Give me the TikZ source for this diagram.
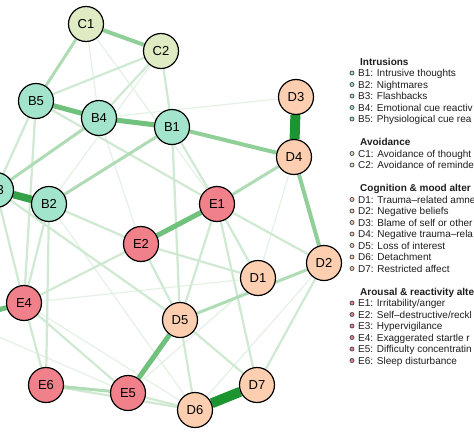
\documentclass[tikz,border=0pt]{standalone}
\usepackage{fontspec}
\setmainfont{Liberation Sans}
\pgfdeclarelayer{bglayer}
\pgfdeclarelayer{edgelayer}
\pgfsetlayers{bglayer,edgelayer,main}
\definecolor{Bcol}{RGB}{163,228,205}
\definecolor{Ccol}{RGB}{222,235,195}
\definecolor{Dcol}{RGB}{253,206,175}
\definecolor{Ecol}{RGB}{240,128,138}
\definecolor{ew1}{RGB}{228,241,229}
\definecolor{ew2}{RGB}{207,233,210}
\definecolor{ew3}{RGB}{175,219,181}
\definecolor{ew4}{RGB}{145,207,153}
\definecolor{ew5}{RGB}{112,193,124}
\definecolor{ew6}{RGB}{52,160,72}
\definecolor{ew7}{RGB}{28,148,48}
\definecolor{legtext}{RGB}{30,30,30}
\tikzset{
  sym/.style={circle, draw=black, line width=1.2pt, minimum size=35pt, inner sep=0pt,
              font=\fontsize{13}{13}\selectfont},
  grpB/.style={sym, fill=Bcol},
  grpC/.style={sym, fill=Ccol},
  grpD/.style={sym, fill=Dcol},
  grpE/.style={sym, fill=Ecol},
  w1/.style={draw=ew1, line width=1.2pt},
  w2/.style={draw=ew2, line width=2.2pt},
  w3/.style={draw=ew3, line width=3pt},
  w4/.style={draw=ew4, line width=4pt},
  w5/.style={draw=ew5, line width=5pt},
  w6/.style={draw=ew6, line width=7.5pt},
  w7/.style={draw=ew7, line width=10pt},
  leg/.style={anchor=base west, inner sep=0pt, text=legtext, font=\fontsize{10}{10}\selectfont},
  legh/.style={anchor=base west, inner sep=0pt, text=legtext, font=\fontsize{10}{10}\selectfont\bfseries},
  bul/.style={circle, draw=black!70, line width=0.8pt, minimum size=4pt, inner sep=0pt},
}
\begin{document}
\begin{tikzpicture}[x=1pt,y=-1pt]
\useasboundingbox (0,0) rectangle (474,442);
\clip (0,0) rectangle (474,442);
\begin{pgfonlayer}{bglayer}
\fill[white] (0,0) rectangle (474,442);
\end{pgfonlayer}

% nodes
\node[grpC] (C1) at (86,24) {C1};
\node[grpC] (C2) at (161,51) {C2};
\node[grpB] (B5) at (36,101) {B5};
\node[grpB] (B4) at (99,118) {B4};
\node[grpB] (B1) at (172,127) {B1};
\node[grpB] (B3) at (-4,190) {B3};
\node[grpB] (B2) at (49,204) {B2};
\node[grpE] (E1) at (217,204) {E1};
\node[grpD] (D3) at (296,97) {D3};
\node[grpD] (D4) at (294,157) {D4};
\node[grpE] (E2) at (141,244) {E2};
\node[grpD] (D2) at (324,263) {D2};
\node[grpD] (D1) at (258,278) {D1};
\node[grpE] (E4) at (24,303) {E4};
\node[grpD] (D5) at (180,320) {D5};
\node[grpE] (E6) at (46,385) {E6};
\node[grpE] (E5) at (128,393) {E5};
\node[grpD] (D7) at (257,385) {D7};
\node[grpD] (D6) at (195,410) {D6};
\coordinate (E3) at (-40,320);

\begin{pgfonlayer}{edgelayer}
% faint
\draw[w1] (C1) -- (B4);
\draw[w1] (C1) -- (E1);
\draw[w1] (C2) -- (B2);
\draw[w1] (B4) -- (D3);
\draw[w1] (B4) -- (E2);
\draw[w1] (D4) -- (D1);
\draw[w1] (E4) -- (D1);
\draw[w1] (E4) -- (D6);
\draw[w1] (E3) -- (E5);
\draw[w1] (D6) -- (D2);
\draw[w1] (E5) -- (D1);
\draw[w1] (B2) -- (D6);
% light
\draw[w2] (C2) -- (B5);
\draw[w2] (C2) -- (B4);
\draw[w2] (C2) -- (B1);
\draw[w2] (B5) -- (B3);
\draw[w2] (B5) -- (E4);
\draw[w2] (B5) -- (E1);
\draw[w2] (B1) -- (E1);
\draw[w2] (B1) -- (D5);
\draw[w2] (B2) -- (E2);
\draw[w2] (B2) -- (E4);
\draw[w2] (B2) -- (E6);
\draw[w2] (B3) -- (E4);
\draw[w2] (B3) -- (D5);
\draw[w2] (E4) -- (E2);
\draw[w2] (E4) -- (E6);
\draw[w2] (E4) -- (E5);
\draw[w2] (E2) -- (D5);
\draw[w2] (E2) -- (D1);
\draw[w2] (E1) -- (D5);
\draw[w2] (E1) -- (D1);
\draw[w2] (E1) -- (D2);
\draw[w2] (E1) -- (D7);
\draw[w2] (D5) -- (D7);
\draw[w2] (D5) -- (D6);
\draw[w2] (D2) -- (D7);
\draw[w2] (E5) -- (D6);
\draw[w2] (E6) -- (D6);
% medium
\draw[w3] (C1) -- (B5);
\draw[w3] (B4) -- (B3);
\draw[w3] (B1) -- (B2);
\draw[w3] (D5) -- (D2);
\draw[w3] (E1) -- (D4);
\draw[w3] (E6) -- (E5);
% medium-strong
\draw[w4] (C1) -- (C2);
\draw[w4] (B1) -- (D4);
\draw[w4] (D4) -- (D2);
% strong
\draw[w5] (B5) -- (B4);
\draw[w5] (B4) -- (B1);
\draw[w5] (D5) -- (E5);
\draw[w5] (E1) -- (E2);
\draw[w5] (E4) -- (E3);
% very strong
\draw[w6] (B3) -- (B2);
\draw[w7] (D3) -- (D4);
\draw[w7] (D6) -- (D7);
\end{pgfonlayer}

% legend
\node[legh] (hB) at (360,65.1) {Intrusions};
\node[bul, fill=Bcol] (bB1) at (352,73) {};
\node[leg] (lB1) at (358,76.6) {B1: Intrusive thoughts};
\node[bul, fill=Bcol] (bB2) at (352,84.5) {};
\node[leg] (lB2) at (358,88.1) {B2: Nightmares};
\node[bul, fill=Bcol] (bB3) at (352,96) {};
\node[leg] (lB3) at (358,99.6) {B3: Flashbacks};
\node[bul, fill=Bcol] (bB4) at (352,107.5) {};
\node[leg] (lB4) at (358,111.1) {B4: Emotional cue reactiv};
\node[bul, fill=Bcol] (bB5) at (352,119) {};
\node[leg] (lB5) at (358,122.6) {B5: Physiological cue rea};

\node[legh] (hC) at (360,145.6) {Avoidance};
\node[bul, fill=Ccol] (bC1) at (352,153.5) {};
\node[leg] (lC1) at (358,157.1) {C1: Avoidance of thought};
\node[bul, fill=Ccol] (bC2) at (352,165) {};
\node[leg] (lC2) at (358,168.6) {C2: Avoidance of reminde};

\node[legh] (hD) at (360,191.6) {Cognition \& mood alter};
\node[bul, fill=Dcol] (bD1) at (352,199.5) {};
\node[leg] (lD1) at (358,203.1) {D1: Trauma–related amne};
\node[bul, fill=Dcol] (bD2) at (352,211) {};
\node[leg] (lD2) at (358,214.6) {D2: Negative beliefs};
\node[bul, fill=Dcol] (bD3) at (352,222.5) {};
\node[leg] (lD3) at (358,226.1) {D3: Blame of self or other};
\node[bul, fill=Dcol] (bD4) at (352,234) {};
\node[leg] (lD4) at (358,237.6) {D4: Negative trauma–rela};
\node[bul, fill=Dcol] (bD5) at (352,245.5) {};
\node[leg] (lD5) at (358,249.1) {D5: Loss of interest};
\node[bul, fill=Dcol] (bD6) at (352,257) {};
\node[leg] (lD6) at (358,260.6) {D6: Detachment};
\node[bul, fill=Dcol] (bD7) at (352,268.5) {};
\node[leg] (lD7) at (358,272.1) {D7: Restricted affect};

\node[legh] (hE) at (360,295.1) {Arousal \& reactivity alte};
\node[bul, fill=Ecol] (bE1) at (352,303) {};
\node[leg] (lE1) at (358,306.6) {E1: Irritability/anger};
\node[bul, fill=Ecol] (bE2) at (352,314.5) {};
\node[leg] (lE2) at (358,318.1) {E2: Self–destructive/reckl};
\node[bul, fill=Ecol] (bE3) at (352,326) {};
\node[leg] (lE3) at (358,329.6) {E3: Hypervigilance};
\node[bul, fill=Ecol] (bE4) at (352,337.5) {};
\node[leg] (lE4) at (358,341.1) {E4: Exaggerated startle r};
\node[bul, fill=Ecol] (bE5) at (352,349) {};
\node[leg] (lE5) at (358,352.6) {E5: Difficulty concentratin};
\node[bul, fill=Ecol] (bE6) at (352,360.5) {};
\node[leg] (lE6) at (358,364.1) {E6: Sleep disturbance};
\end{tikzpicture}
\end{document}
